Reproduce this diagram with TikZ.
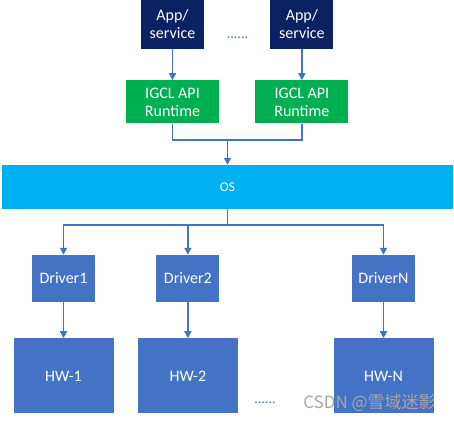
\documentclass[tikz,border=0pt]{standalone}
\usepackage{fontspec}
\setmainfont{Carlito}
\newfontfamily\cjk{Noto Sans CJK SC}
\usetikzlibrary{positioning,arrows.meta}
\definecolor{appblue}{HTML}{0B2262}
\definecolor{apigreen}{HTML}{00B050}
\definecolor{osblue}{HTML}{00B0F0}
\definecolor{drvblue}{HTML}{4472C4}
\begin{document}
\begin{tikzpicture}[x=1pt, y=-1pt,
  box/.style={rectangle, text=white, align=center, inner sep=0pt,
    font=\fontsize{16}{18}\selectfont},
  app/.style={box, fill=appblue, minimum width=63pt, minimum height=49pt},
  api/.style={box, fill=apigreen, minimum width=93pt, minimum height=43pt},
  drv/.style={box, fill=drvblue, minimum width=63pt, minimum height=47pt},
  hw/.style={box, fill=drvblue, minimum width=100pt, minimum height=75pt},
  link/.style={drvblue, line width=1.5pt},
  arr/.style={link, -{Triangle[length=7pt,width=7pt]}}]

  \useasboundingbox (0,0) rectangle (454,422);

  \node (App1) [app] at (172.5,24.5) {App/\\service};
  \node (App2) [app, right=66pt of App1] {App/\\service};
  \node (API1) [api, below=31pt of App1] {IGCL API\\Runtime};
  \node (API2) [api, below=31pt of App2] {IGCL API\\Runtime};
  \node (OS) [box, fill=osblue, minimum width=451pt, minimum height=44pt,
    font=\fontsize{13.5}{15}\selectfont] at (227.5,187) {OS};

  \node (Drv1) [drv] at (63.5,278.5) {Driver1};
  \node (Drv2) [drv, right=61pt of Drv1] {Driver2};
  \node (DrvN) [drv] at (383.5,278.5) {DriverN};
  \node (HW1) [hw, below=36pt of Drv1] {HW-1};
  \node (HW2) [hw, below=36pt of Drv2] {HW-2};
  \node (HWN) [hw, below=36pt of DrvN] {HW-N};

  \node (dotsA) [text=drvblue, font=\fontsize{14}{16}\selectfont] at (237.5,38) {......};
  \node (dotsB) [text=drvblue, font=\fontsize{14}{16}\selectfont] at (265,403) {......};
  \node (mark) [text=black!35, font=\cjk\fontsize{17}{19}\selectfont] at (369.5,403) {CSDN @雪域迷影};

  \coordinate (merge) at ([yshift=25pt]OS.north);
  \coordinate (split) at ([yshift=-16pt]OS.south);

  \draw [arr] (App1) -- (API1);
  \draw [arr] (App2) -- (API2);
  \draw [link] (API1.south) |- (merge) -| (API2.south);
  \draw [arr] (merge) -- (OS.north);
  \draw [link] (OS.south) -- (split);
  \draw [arr] (split) -| (Drv1.north);
  \draw [arr] (split) -| (Drv2.north);
  \draw [arr] (split) -| (DrvN.north);
  \draw [arr] (Drv1) -- (HW1);
  \draw [arr] (Drv2) -- (HW2);
  \draw [arr] (DrvN) -- (HWN);

\end{tikzpicture}
\end{document}
